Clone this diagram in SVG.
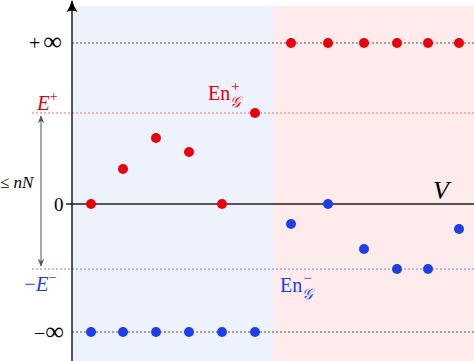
<svg xmlns="http://www.w3.org/2000/svg" width="474" height="361" viewBox="0 0 474 361">
<defs>
<style>
.t{font-family:"Liberation Serif","DejaVu Serif",serif;}
.it{font-style:italic;}
.r{fill:#e8000b;}
.b{fill:#1f3fe6;}
.dot-r{fill:#e8000b;}
.dot-b{fill:#1f3fe6;}
</style>
<marker id="ah" viewBox="0 0 10 10" refX="9" refY="5" markerWidth="8" markerHeight="8" orient="auto-start-reverse" markerUnits="userSpaceOnUse">
<path d="M0,1 L10,5 L0,9 L3,5 Z" fill="#555"/>
</marker>
<marker id="ahk" viewBox="0 0 12 12" refX="11" refY="6" markerWidth="12" markerHeight="12" orient="auto" markerUnits="userSpaceOnUse">
<path d="M0,0.5 Q5,4 12,6 Q5,8 0,11.5 Q3,6 0,0.5 Z" fill="#000"/>
</marker>
</defs>
<rect x="72" y="6" width="201" height="355" fill="#eef2fd"/>
<rect x="273" y="6" width="201" height="355" fill="#fdeceb"/>
<g id="connectors">
<line x1="72" y1="43" x2="474" y2="43" stroke="#555" stroke-width="1" stroke-dasharray="2,2"/>
<line x1="72" y1="332" x2="474" y2="332" stroke="#555" stroke-width="1" stroke-dasharray="2,2"/>
<line x1="32" y1="113" x2="474" y2="113" stroke="#f07070" stroke-width="1" stroke-dasharray="2,2"/>
<line x1="32" y1="269" x2="474" y2="269" stroke="#8080e8" stroke-width="1" stroke-dasharray="2,2"/>
<line x1="66" y1="204" x2="474" y2="204" stroke="#222" stroke-width="1.3"/>
<line x1="72" y1="361" x2="72" y2="1" stroke="#000" stroke-width="1.3" marker-end="url(#ahk)"/>
<line x1="41" y1="116" x2="41" y2="266" stroke="#555" stroke-width="1" marker-start="url(#ah)" marker-end="url(#ah)"/>
</g>
<g id="labels">
<text class="t" x="29" y="50" font-size="20">+<tspan font-size="26" dx="3">∞</tspan></text>
<text class="t" x="34" y="340" font-size="20">−<tspan font-size="26">∞</tspan></text>
<text class="t" x="54" y="211" font-size="19">0</text>
<text class="t it r" x="37" y="110" font-size="21">E<tspan font-size="14" font-style="normal" dy="-9">+</tspan></text>
<text class="t b" x="24" y="291" font-size="21">−<tspan font-style="italic">E</tspan><tspan font-size="14" dy="-9">−</tspan></text>
<text class="t" x="0" y="188" font-size="17">≤ <tspan font-style="italic">nN</tspan></text>
<text class="t it" x="433" y="199" font-size="26">V</text>
<text class="t r" x="208" y="100" font-size="20">En<tspan font-size="15" dx="1" dy="-9">+</tspan><tspan font-size="15" font-style="italic" dx="-10" dy="16">𝒢</tspan></text>
<text class="t b" x="280" y="292" font-size="20">En<tspan font-size="15" dx="1" dy="-9">−</tspan><tspan font-size="15" font-style="italic" dx="-10" dy="16">𝒢</tspan></text>
</g>
<g id="red-dots" class="dot-r">
<circle cx="91" cy="204" r="5"/>
<circle cx="123" cy="169" r="5"/>
<circle cx="156" cy="138" r="5"/>
<circle cx="189" cy="152" r="5"/>
<circle cx="222" cy="204" r="5"/>
<circle cx="255" cy="113" r="5"/>
<circle cx="291" cy="43" r="5"/>
<circle cx="328" cy="43" r="5"/>
<circle cx="364" cy="43" r="5"/>
<circle cx="397" cy="43" r="5"/>
<circle cx="428" cy="43" r="5"/>
<circle cx="459" cy="43" r="5"/>
</g>
<g id="blue-dots" class="dot-b">
<circle cx="91" cy="332" r="5"/>
<circle cx="123" cy="332" r="5"/>
<circle cx="156" cy="332" r="5"/>
<circle cx="189" cy="332" r="5"/>
<circle cx="222" cy="332" r="5"/>
<circle cx="255" cy="332" r="5"/>
<circle cx="291" cy="224" r="5"/>
<circle cx="328" cy="204" r="5"/>
<circle cx="364" cy="249" r="5"/>
<circle cx="397" cy="269" r="5"/>
<circle cx="428" cy="269" r="5"/>
<circle cx="459" cy="229" r="5"/>
</g>
</svg>
